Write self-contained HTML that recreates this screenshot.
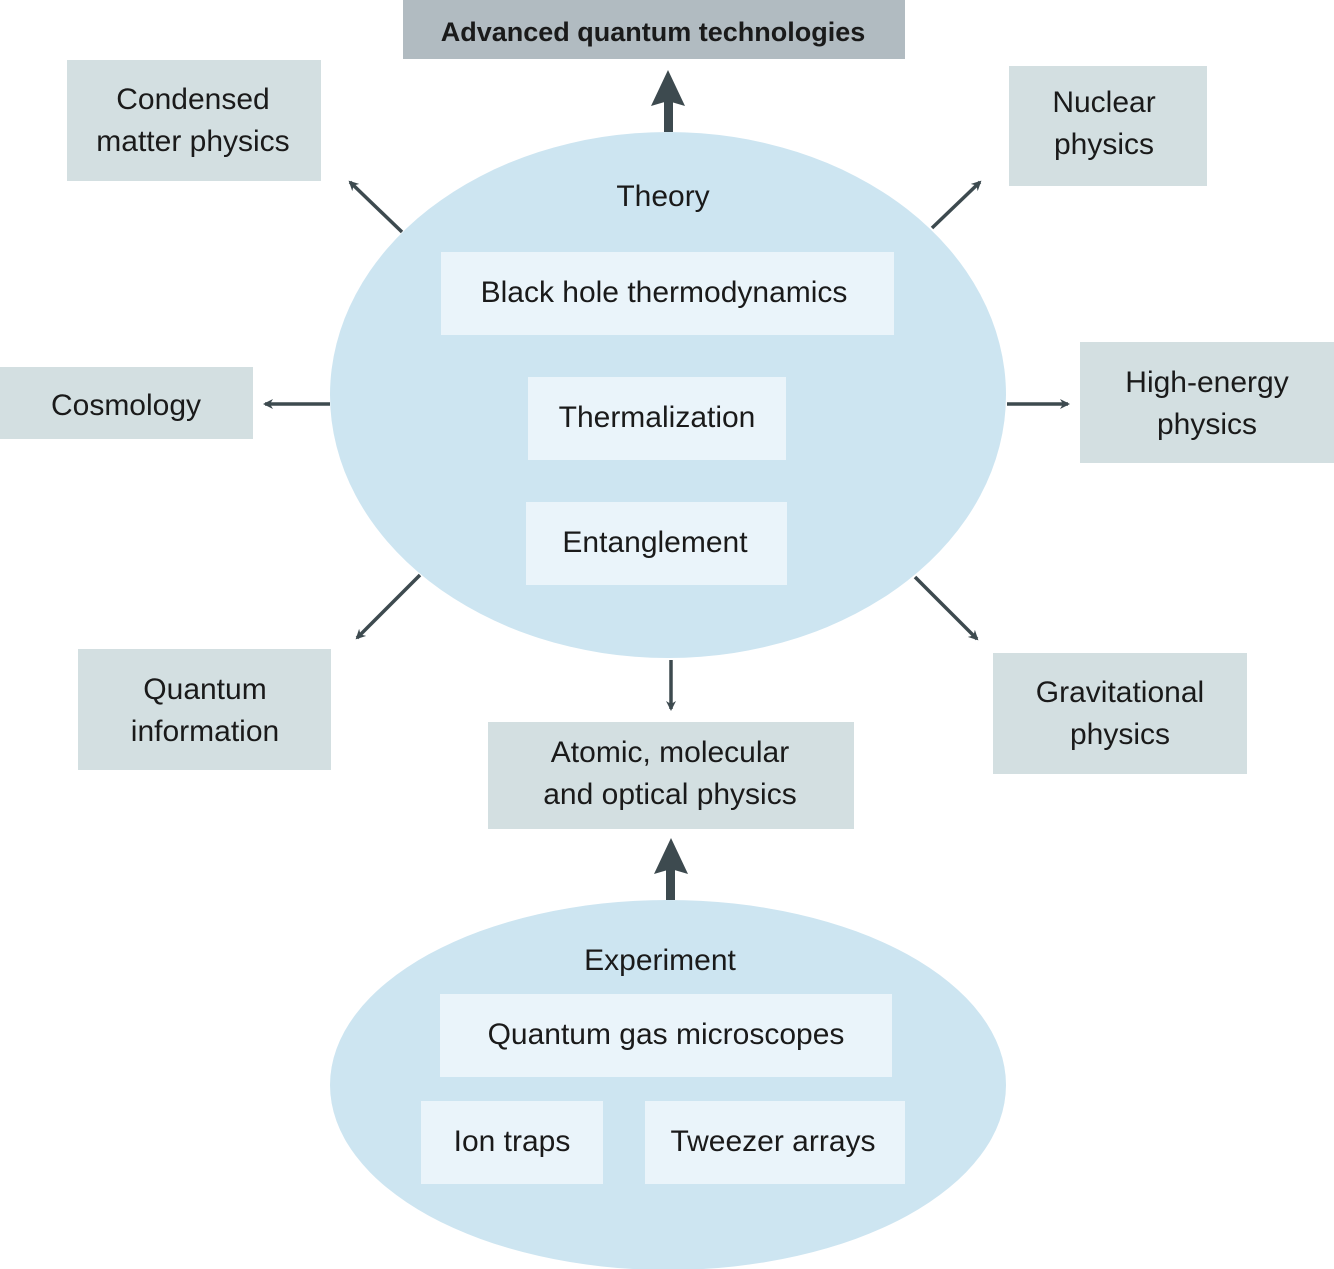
<!DOCTYPE html>
<html><head><meta charset="utf-8"><style>
html,body{margin:0;padding:0;background:#fff}
svg{display:block}
text{font-family:"Liberation Sans",sans-serif;font-size:30px;fill:#1a1a1a;text-anchor:middle}
</style></head><body>
<svg width="1334" height="1269" viewBox="0 0 1334 1269" xmlns="http://www.w3.org/2000/svg">
<defs>
<marker id="a" markerWidth="10" markerHeight="10" refX="8" refY="5" orient="auto" markerUnits="userSpaceOnUse" viewBox="0 0 10 10"><path d="M0,0 L10,5 L0,10 L3,5 z" fill="#3d4a4f"/></marker>
</defs>
<ellipse cx="668" cy="395" rx="338" ry="263" fill="#cde5f1"/>
<ellipse cx="668" cy="1085" rx="338" ry="185" fill="#cde5f1"/>
<!-- boxes -->
<rect x="403" y="0" width="502" height="59" fill="#b1bbc1"/>
<text x="653" y="41" style="font-weight:bold;font-size:27px">Advanced quantum technologies</text>
<g fill="#d3dfe1">
<rect x="67" y="60" width="254" height="121"/>
<rect x="1009" y="66" width="198" height="120"/>
<rect x="0" y="367" width="253" height="72"/>
<rect x="1080" y="342" width="254" height="121"/>
<rect x="78" y="649" width="253" height="121"/>
<rect x="993" y="653" width="254" height="121"/>
<rect x="488" y="722" width="366" height="107"/>
</g>
<g fill="#eaf4fa">
<rect x="441" y="252" width="453" height="83"/>
<rect x="528" y="377" width="258" height="83"/>
<rect x="526" y="502" width="261" height="83"/>
<rect x="440" y="994" width="452" height="83"/>
<rect x="421" y="1101" width="182" height="83"/>
<rect x="645" y="1101" width="260" height="83"/>
</g>
<text x="193" y="109">Condensed</text><text x="193" y="151">matter physics</text>
<text x="1104" y="112">Nuclear</text><text x="1104" y="154">physics</text>
<text x="126" y="415">Cosmology</text>
<text x="1207" y="392">High-energy</text><text x="1207" y="434">physics</text>
<text x="205" y="699">Quantum</text><text x="205" y="741">information</text>
<text x="1120" y="702">Gravitational</text><text x="1120" y="744">physics</text>
<text x="670" y="762">Atomic, molecular</text><text x="670" y="804">and optical physics</text>
<text x="663" y="206">Theory</text>
<text x="664" y="302">Black hole thermodynamics</text>
<text x="657" y="427">Thermalization</text>
<text x="655" y="552">Entanglement</text>
<text x="660" y="970">Experiment</text>
<text x="666" y="1044">Quantum gas microscopes</text>
<text x="512" y="1151">Ion traps</text>
<text x="773" y="1151">Tweezer arrays</text>
<!-- thick arrows -->
<rect x="664" y="100" width="9" height="32" fill="#3d4a4f"/>
<path d="M668,70 L685,106 L668,101 L651,106 z" fill="#3d4a4f"/>
<rect x="666" y="868" width="9" height="32" fill="#3d4a4f"/>
<path d="M671,838 L688,874 L671,869 L654,874 z" fill="#3d4a4f"/>
<!-- thin arrows -->
<g stroke="#3d4a4f" stroke-width="3.5" fill="none" marker-end="url(#a)">
<line x1="402" y1="232" x2="350" y2="182"/>
<line x1="932" y1="228" x2="980" y2="182"/>
<line x1="330" y1="404" x2="265" y2="404"/>
<line x1="1007" y1="404" x2="1068" y2="404"/>
<line x1="420" y1="575" x2="357" y2="638"/>
<line x1="915" y1="577" x2="977" y2="639"/>
<line x1="671" y1="660" x2="671" y2="709"/>
</g>
</svg>
</body></html>
